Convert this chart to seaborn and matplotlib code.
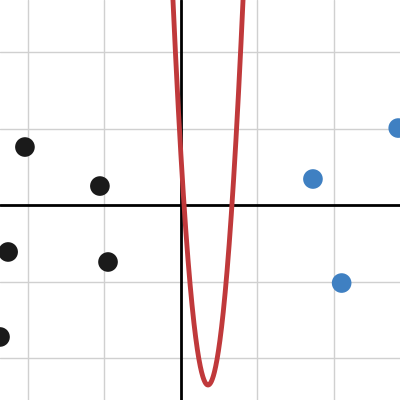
import numpy as np
import matplotlib
matplotlib.use("Agg")
import matplotlib.pyplot as plt
import seaborn as sns

black_x = [-2.04, -1.06, -2.26, -0.954, -2.366]
black_y = [0.758, 0.248, -0.614, -0.745, -1.725]
blue_x = [1.725, 2.10, 2.84]
blue_y = [0.34, -1.02, 1.006]

# parabola y = a*(x - h)^2 + k
curve_a = 24.0
curve_h = 0.353
curve_k = -2.353

sns.set_theme(style="white")
fig = plt.figure(figsize=(4, 4), dpi=100)
ax = fig.add_axes([0, 0, 1, 1])

ax.set_xlim(-2.366, 2.863)
ax.set_ylim(-2.549, 2.68)
for g in [-2, -1, 1, 2]:
    ax.axvline(g, color="#d0d0d0", lw=1, zorder=0)
    ax.axhline(g, color="#d0d0d0", lw=1, zorder=0)
ax.axhline(0, color="black", lw=2, zorder=1)
ax.axvline(0, color="black", lw=2, zorder=1)

xs = np.linspace(-0.2, 0.9, 400)
sns.lineplot(x=xs, y=curve_a * (xs - curve_h) ** 2 + curve_k, ax=ax,
             color="#c0393b", lw=3.5, zorder=3)
sns.scatterplot(x=black_x, y=black_y, ax=ax, color="#1a1a1a", s=200,
                edgecolor="none", zorder=4, clip_on=True)
sns.scatterplot(x=blue_x, y=blue_y, ax=ax, color="#3f80c2", s=200,
                edgecolor="none", zorder=4)

ax.set_xticks([])
ax.set_yticks([])
for s in ax.spines.values():
    s.set_visible(False)

fig.savefig("out.png", dpi=100)
